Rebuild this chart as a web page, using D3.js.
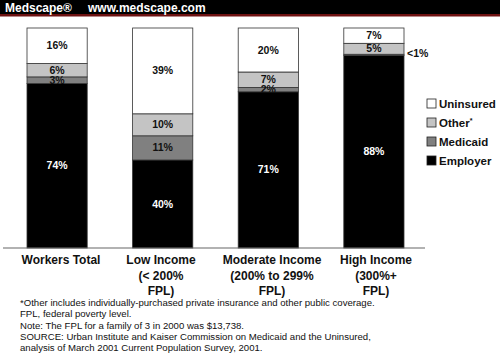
<!DOCTYPE html>
<html><head><meta charset="utf-8">
<script src="https://cdn.jsdelivr.net/npm/d3@7"></script>
<style>body{margin:0;background:#fff}svg{display:block;font-family:"Liberation Sans",Arial,sans-serif}</style>
</head><body>
<svg id="c" width="500" height="357"></svg>
<script>
const categories = ["Workers Total", "Low Income", "Moderate Income", "High Income"];
const categoryLines = [["Workers Total"], ["Low Income", "(< 200%", "FPL)"], ["Moderate Income", "(200% to 299%", "FPL)"], ["High Income", "(300%+", "FPL)"]];
const seriesNames = ["Employer", "Medicaid", "Other", "Uninsured"];
const legendNames = ["Uninsured", "Other", "Medicaid", "Employer"];
const employer = [74, 40, 71, 88];
const medicaid = [3, 11, 2, 0.5];
const other = [6, 10, 7, 5];
const uninsured = [16, 39, 20, 7];
const medicaidLabels = ["3%", "11%", "2%", "<1%"];
const footnotes = [
  "*Other includes individually-purchased private insurance and other public coverage.",
  "FPL, federal poverty level.",
  "Note: The FPL for a family of 3 in 2000 was $13,738.",
  "SOURCE: Urban Institute and Kaiser Commission on Medicaid and the Uninsured,",
  "analysis of March 2001 Current Population Survey, 2001."
];

const colors = {Employer: "#000000", Medicaid: "#808080", Other: "#c4c4c4", Uninsured: "#ffffff"};
const textColors = {Employer: "#ffffff", Medicaid: "#111", Other: "#111", Uninsured: "#111"};

const table = categories.map((c, i) => ({cat: c, Employer: employer[i], Medicaid: medicaid[i], Other: other[i], Uninsured: uninsured[i], medLabel: medicaidLabels[i]}));

const svg = d3.select("#c");

// header
svg.append("rect").attr("x", 0).attr("y", 0).attr("width", 500).attr("height", 15).attr("fill", "#000");
svg.append("rect").attr("x", 0).attr("y", 14).attr("width", 500).attr("height", 2.5).attr("fill", "#6e1212");
svg.append("text").attr("x", 5).attr("y", 11.5).attr("fill", "#fff").attr("font-weight", "bold").attr("font-size", 12).text("Medscape\u00AE");
svg.append("text").attr("x", 88).attr("y", 11.5).attr("fill", "#fff").attr("font-weight", "bold").attr("font-size", 12).text("www.medscape.com");

const x = d3.scaleBand().domain(categories).range([27, 404]).paddingInner(0.43).paddingOuter(0);
const y = d3.scaleLinear().domain([0, 1]).range([248, 28]);

const stack = d3.stack().keys(seriesNames).offset(d3.stackOffsetExpand);
const series = stack(table);

const g = svg.append("g");
series.forEach(s => {
  const key = s.key;
  g.selectAll(null).data(s).enter().append("rect")
    .attr("x", d => x(d.data.cat))
    .attr("y", d => y(d[1]))
    .attr("width", x.bandwidth())
    .attr("height", d => y(d[0]) - y(d[1]))
    .attr("fill", colors[key])
    .attr("stroke", "#333")
    .attr("stroke-width", 0.8);
});

// value labels
series.forEach(s => {
  const key = s.key;
  g.selectAll(null).data(s).enter().append("text")
    .attr("x", d => {
      if (key === "Medicaid" && d.data.medLabel === "<1%") return x(d.data.cat) + x.bandwidth() + 3;
      return x(d.data.cat) + x.bandwidth() / 2;
    })
    .attr("y", d => {
      const cy = (y(d[0]) + y(d[1])) / 2;
      if (key === "Medicaid" && d.data.medLabel === "<1%") return cy + 2;
      return cy + 3.5;
    })
    .attr("text-anchor", d => (key === "Medicaid" && d.data.medLabel === "<1%") ? "start" : "middle")
    .attr("font-size", 10.5)
    .attr("font-weight", "bold")
    .attr("fill", textColors[key])
    .text(d => key === "Medicaid" ? d.data.medLabel : d.data[key] + "%");
});

// baseline axis
svg.append("line").attr("x1", 3).attr("x2", 425).attr("y1", 248).attr("y2", 248).attr("stroke", "#666").attr("stroke-width", 1.2);

// category labels
const catCenters = [61, 161, 272, 376];
categories.forEach((c, i) => {
  const t = svg.append("text").attr("text-anchor", "middle").attr("font-size", 12).attr("font-weight", "bold").attr("fill", "#111");
  categoryLines[i].forEach((ln, j) => {
    t.append("tspan").attr("x", catCenters[i]).attr("y", 264 + j * 15.5).text(ln);
  });
});

// legend
const lg = svg.append("g");
legendNames.forEach((n, i) => {
  const yy = 99 + i * 19;
  lg.append("rect").attr("x", 427).attr("y", yy).attr("width", 9).attr("height", 9).attr("fill", colors[n]).attr("stroke", "#222").attr("stroke-width", 0.8);
  const t = lg.append("text").attr("x", 439).attr("y", yy + 8.5).attr("font-size", 11.5).attr("font-weight", "bold").attr("fill", "#111").text(n);
  if (n === "Other") t.append("tspan").attr("font-size", 7).attr("dy", -4).text("*");
});

// footnotes
footnotes.forEach((f, i) => {
  svg.append("text").attr("x", 20).attr("y", 306 + i * 11.3).attr("font-size", 9.6).attr("fill", "#111").text(f);
});
</script>
</body></html>
